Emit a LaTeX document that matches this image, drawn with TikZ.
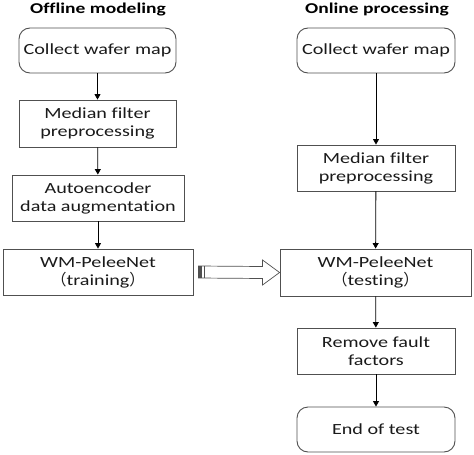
\documentclass[tikz,border=0pt]{standalone}
\usepackage{fontspec}
\setmainfont{Carlito}[FakeStretch=1.3,Ligatures={NoCommon}]
\newfontfamily\cjk{Noto Sans CJK SC}
\usetikzlibrary{arrows.meta,calc}
\definecolor{boxline}{HTML}{505050}
\definecolor{txt}{HTML}{1A1A1A}
\tikzset{
  base/.style={draw=boxline, line width=0.9pt, inner sep=0pt, align=center, text=txt,
    font=\fontsize{15.5}{18}\selectfont},
  proc/.style={base, rectangle},
  term/.style={base, rectangle, rounded corners=11pt},
  title/.style={font=\bfseries\fontsize{15}{18}\selectfont, text=black, inner sep=0pt},
  flow/.style={draw=black, line width=0.8pt, -{Triangle[length=5.5pt,width=6pt]}},
  hollow/.style={draw=boxline, line width=0.7pt, fill=white},
}
\begin{document}
\begin{tikzpicture}[x=1pt,y=-1pt]
\useasboundingbox (0,0) rectangle (474,455);
\node[title] (T1) at (98,10) {Offline modeling};
\node[title] (T2) at (377,10) {Online processing};

\node[term, minimum width=157pt, minimum height=45pt] (L1) at (97.5,50.5) {Collect wafer map};
\node[proc, minimum width=157pt, minimum height=47pt] (L2) at (97.5,123.5) {Median filter\\preprocessing};
\node[proc, minimum width=172pt, minimum height=46pt] (L3) at (98,198) {Autoencoder\\data augmentation};
\node[proc, minimum width=190pt, minimum height=46pt] (L4) at (98,272) {WM-PeleeNet\\{\cjk （}training{\cjk ）}};

\node[term, minimum width=158pt, minimum height=45pt] (R1) at (376,50.5) {Collect wafer map};
\node[proc, minimum width=158pt, minimum height=46pt] (R2) at (376,168) {Median filter\\preprocessing};
\node[proc, minimum width=191pt, minimum height=47pt] (R3) at (375.5,272.5) {WM-PeleeNet\\{\cjk （}testing{\cjk ）}};
\node[proc, minimum width=158pt, minimum height=46pt] (R4) at (376,351) {Remove fault\\factors};
\node[term, minimum width=158pt, minimum height=45pt] (R5) at (376,429.5) {End of test};

\draw[flow] (L1) -- (L2);
\draw[flow] (L2) -- (L3);
\draw[flow] (L3) -- (L4);
\draw[flow] (R1) -- (R2);
\draw[flow] (R2) -- (R3);
\draw[flow] (R3) -- (R4);
\draw[flow] (R4) -- (R5);

\coordinate (A) at ($(L4.east)+(5,0)$);
\coordinate (B) at (R3.west);
\draw[hollow] ($(A)+(0,-6)$) -- ($(B)+(-17,-6)$) -- ($(B)+(-17,-12.5)$) -- (B)
  -- ($(B)+(-17,12.5)$) -- ($(B)+(-17,6)$) -- ($(A)+(0,6)$) -- cycle;
\fill[boxline] ($(A)+(0,-6)$) rectangle ($(A)+(3.5,6)$);
\draw[boxline, line width=0.7pt] ($(A)+(6,-6)$) -- ($(A)+(6,6)$);
\end{tikzpicture}
\end{document}
